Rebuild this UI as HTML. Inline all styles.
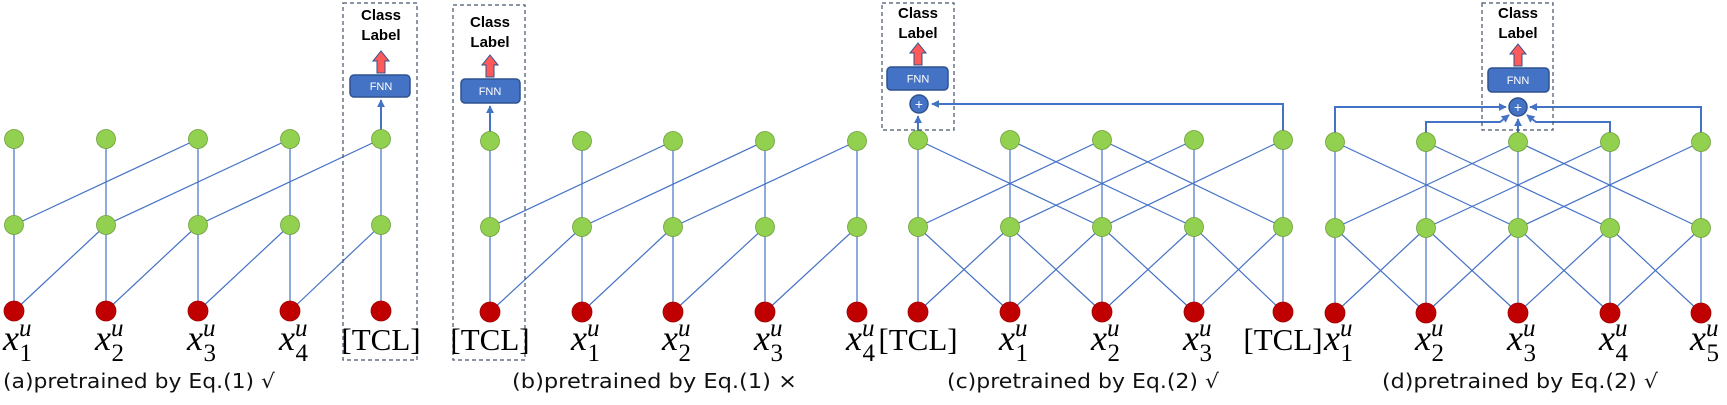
<!DOCTYPE html>
<html><head><meta charset="utf-8"><style>
html,body{margin:0;padding:0;background:#fff;}
svg{display:block;}
</style></head><body>
<svg id="fig" width="1727" height="405" viewBox="0 0 1727 405" xmlns="http://www.w3.org/2000/svg">
<defs>
<marker id="ah" viewBox="0 0 10 10" refX="9" refY="5" markerWidth="4" markerHeight="4" orient="auto"><path d="M0,0 L10,5 L0,10 z" fill="#4472c4"/></marker>
</defs>
<g id="edges"></g>
<g id="nodes"></g>
<g id="heads"></g>
<g id="labels"></g>
</svg>
<script>
const NS='http://www.w3.org/2000/svg';
// panel definitions
const panelCols=[[14,106,198,290,381],[490,582,673,765,857],[918,1010,1102,1194,1283],[1335,1426,1518,1610,1701]];
const panelRows=[[139,225,311],[141,227,312],[140,227,312],[142,228,313]];
const panelLabels=[["x1","x2","x3","x4","TCL"],["TCL","x1","x2","x3","x4"],["TCL","x1","x2","x3","TCL"],["x1","x2","x3","x4","x5"]];
const captions=["(a)pretrained by Eq.(1) √","(b)pretrained by Eq.(1)  ×","(c)pretrained by Eq.(2) √","(d)pretrained by Eq.(2) √"];
const captionX=[3,512,947,1382];
const captionW=[272,285,272,276];
const eLayer=document.getElementById('edges'),nLayer=document.getElementById('nodes'),hLayer=document.getElementById('heads'),lLayer=document.getElementById('labels');
function mk(tag,attrs,parent){const e=document.createElementNS(NS,tag);for(const k in attrs)e.setAttribute(k,attrs[k]);parent.appendChild(e);return e;}
function line(x1,y1,x2,y2,w,arrow){const l=mk('line',{x1,y1,x2,y2,stroke:'#4472c4','stroke-width':w||1.2},eLayer);if(arrow)l.setAttribute('marker-end','url(#ah)');

return l;}
panelCols.forEach((cols,p)=>{
  const [yt,ym,yb]=panelRows[p];
  const n=cols.length;
  for(let i=0;i<n;i++){
    line(cols[i],yb,cols[i],ym);line(cols[i],ym,cols[i],yt);
    if(p<2){
      if(i+1<n) line(cols[i],yb,cols[i+1],ym);
      if(i+2<n) line(cols[i],ym,cols[i+2],yt);
    } else {
      if(i+1<n){line(cols[i],yb,cols[i+1],ym);line(cols[i+1],yb,cols[i],ym);}
      if(i+2<n){line(cols[i],ym,cols[i+2],yt);line(cols[i+2],ym,cols[i],yt);}
    }
  }
  for(let i=0;i<n;i++){
    [[yt,'#92d050','#6f9f3a',9.5,'hidden-node-top'],[ym,'#92d050','#6f9f3a',9.5,'hidden-node-mid'],[yb,'#c00000','#a00000',10,'input-node']].forEach(r=>{
      const c=mk('circle',{cx:cols[i],cy:r[0],r:r[3],fill:r[1],stroke:r[2],'stroke-width':0.8},nLayer);
      
      
    });
    const lab=panelLabels[p][i];
    let t;
    if(lab==='TCL'){
      t=mk('text',{x:cols[i],y:350,'text-anchor':'middle','font-family':'Liberation Serif, serif','font-size':31},lLayer);
      t.textContent='[TCL]';
    } else {
      t=mk('text',{x:cols[i]-11,y:350,'font-family':'Liberation Serif, serif','font-size':36},lLayer);
      const a=mk('tspan',{'font-style':'italic'},t);a.textContent='x';
      const s=mk('tspan',{dy:-14,'font-size':25,'font-style':'italic'},t);s.textContent='u';
      const b=mk('tspan',{dx:-12,dy:25,'font-size':25},t);b.textContent=lab.slice(1);
    }
    
    
  }
  const cap=mk('text',{x:captionX[p],y:388,'font-family':'DejaVu Sans, sans-serif','font-size':20,fill:'#111',textLength:captionW[p],lengthAdjust:'spacingAndGlyphs'},lLayer);
  cap.textContent=captions[p];
  
  
});
function head(box,fnn,cx,clsY){
  const g=mk('g',{},hLayer);
  
  
  const r=mk('rect',{x:box[0],y:box[1],width:box[2]-box[0],height:box[3]-box[1],fill:'none',stroke:'#44546a','stroke-width':1.2,'stroke-dasharray':'4,3'},g);
  
  
  const f=mk('rect',{x:fnn[0],y:fnn[1],width:fnn[2]-fnn[0],height:fnn[3]-fnn[1],rx:4,fill:'#4472c4',stroke:'#2f528f','stroke-width':1.5},g);
  
  
  const ft=mk('text',{x:cx,y:(fnn[1]+fnn[3])/2+4,'text-anchor':'middle','font-family':'Liberation Sans, sans-serif','font-size':11,fill:'#fff'},g);ft.textContent='FNN';
  const ar=mk('path',{d:`M${cx-4},${fnn[1]-2} L${cx-4},${fnn[1]-14} L${cx-8},${fnn[1]-14} L${cx},${fnn[1]-24} L${cx+8},${fnn[1]-14} L${cx+4},${fnn[1]-14} L${cx+4},${fnn[1]-2} Z`,fill:'#ff5a5a',stroke:'#2f528f','stroke-width':1},g);
  
  
  const t1=mk('text',{x:cx,y:clsY,'text-anchor':'middle','font-family':'Liberation Sans, sans-serif','font-size':15,'font-weight':'bold'},g);t1.textContent='Class';
  const t2=mk('text',{x:cx,y:clsY+20,'text-anchor':'middle','font-family':'Liberation Sans, sans-serif','font-size':15,'font-weight':'bold'},g);t2.textContent='Label';
  return g;
}
function plus(cx,cy){
  const c=mk('circle',{cx,cy,r:9,fill:'#4472c4',stroke:'#2f528f','stroke-width':1.5},hLayer);
  
  
  const t=mk('text',{x:cx,y:cy+5,'text-anchor':'middle','font-family':'Liberation Sans, sans-serif','font-size':14,fill:'#fff'},hLayer);t.textContent='+';
}
// (a)
head([343,3,417,360],[350,75,410,97],381,20);
line(381,130,381,100,2,true);
// (b)
head([453,5,525,360],[461,79,520,103],490,27);
line(490,132,490,106,2,true);
// (c)
head([882,3,954,130],[887,67,948,90],918,18);
plus(919,104);
line(918,131,918,116,2,true);
let pl=mk('polyline',{points:'1283,131 1283,104 932,104',fill:'none',stroke:'#4472c4','stroke-width':2,'marker-end':'url(#ah)'},eLayer);


// (d)
head([1482,3,1553,130],[1488,68,1549,92],1518,18);
plus(1518,107);
line(1518,133,1518,119,2,true);
[['1335,133 1335,107 1506,107'],['1701,133 1701,107 1530,107'],['1426,133 1426,122 1500,122 1509,115'],['1610,133 1610,122 1536,122 1527,115']].forEach(a=>{
  const p=mk('polyline',{points:a[0],fill:'none',stroke:'#4472c4','stroke-width':2,'marker-end':'url(#ah)'},eLayer);
  
  
});
</script>
</body></html>
